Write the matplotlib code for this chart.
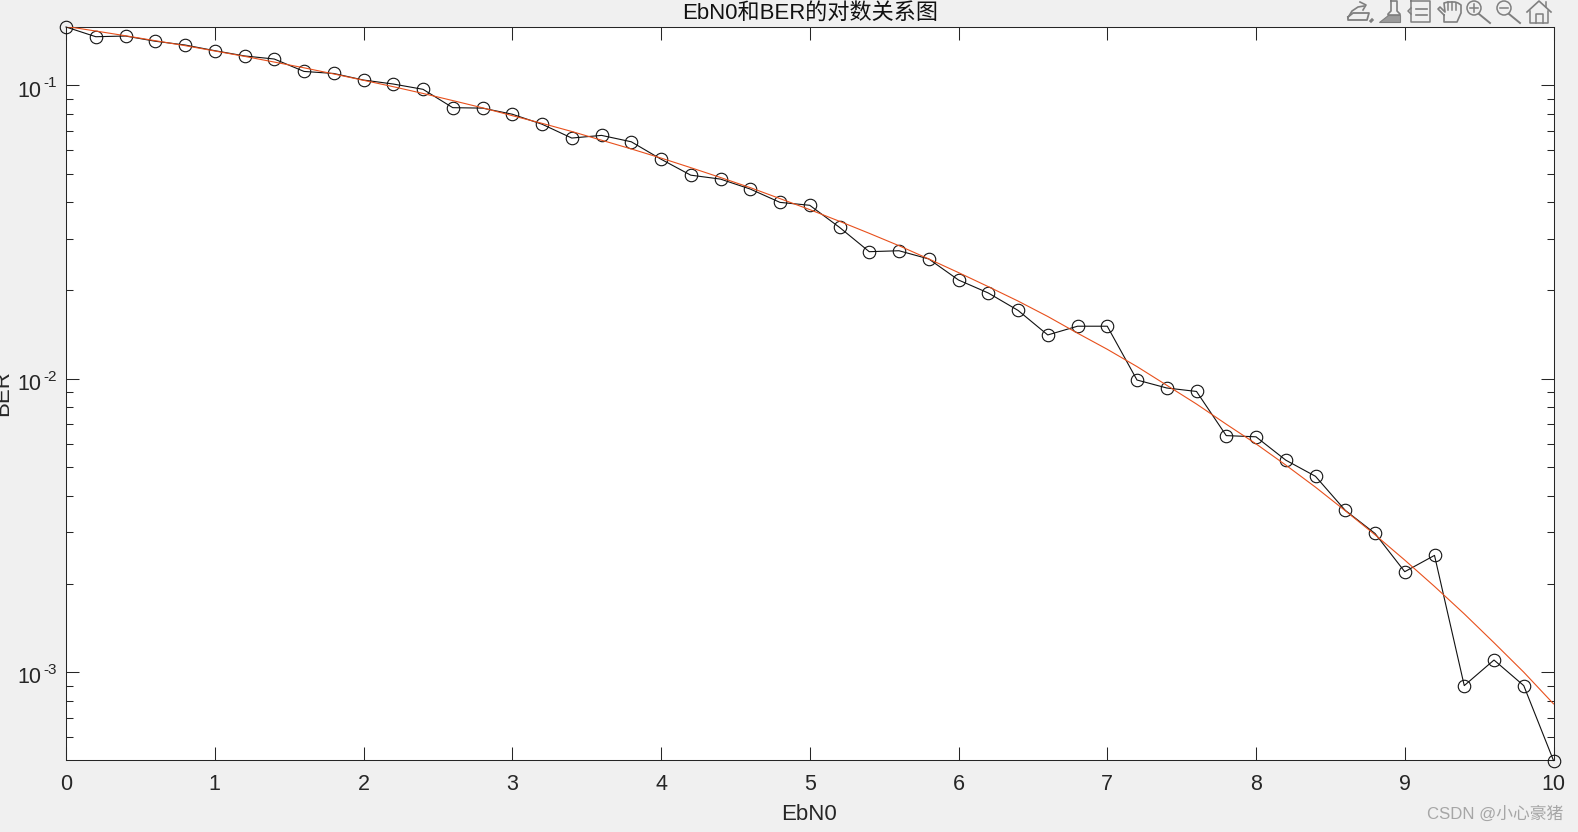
import math
import matplotlib
matplotlib.use("Agg")
import matplotlib.pyplot as plt
from matplotlib.lines import Line2D
from matplotlib.patches import Circle, Polygon
from matplotlib.ticker import LogLocator, NullFormatter, FixedLocator
from matplotlib.transforms import blended_transform_factory, ScaledTranslation, IdentityTransform

W, H = 1578, 832

ebn0 = [i / 5 for i in range(51)]
ber_sim = [0.158, 0.1464, 0.1472, 0.1413, 0.1372, 0.1312, 0.1259, 0.1229, 0.1115, 0.1097,
           0.1042, 0.101, 0.0969, 0.0839, 0.0836, 0.0797, 0.0737, 0.0661, 0.0675, 0.0642,
           0.056, 0.0494, 0.0479, 0.0443, 0.0399, 0.039, 0.0328, 0.0271, 0.0273, 0.0256,
           0.0217, 0.0196, 0.0171, 0.0141, 0.0151, 0.0151, 0.0099, 0.0093, 0.00905, 0.0064,
           0.00634, 0.00528, 0.00465, 0.00356, 0.00297, 0.0022, 0.0025, 0.0009, 0.0011, 0.0009,
           0.0005]
ber_theory = [0.1587, 0.1531, 0.1475, 0.1419, 0.1365, 0.1309, 0.1255, 0.1200, 0.1147, 0.1093,
              0.1040, 0.0989, 0.0938, 0.0887, 0.0838, 0.0788, 0.0742, 0.0696, 0.0650, 0.0607,
              0.0565, 0.0524, 0.0485, 0.0448, 0.0411, 0.0377, 0.0344, 0.0313, 0.0284, 0.0256,
              0.0230, 0.0206, 0.0184, 0.0163, 0.0143, 0.0126, 0.0110, 0.0095, 0.0082, 0.0070,
              0.0060, 0.00508, 0.00427, 0.00355, 0.00294, 0.00241, 0.00196, 0.00158, 0.00126, 0.00100,
              0.00078]
x_ticks = list(range(11))
y_decades = [0.1, 0.01, 0.001]
title_text = "EbN0和BER的对数关系图"
x_label = "EbN0"
y_label = "BER"
watermark = "CSDN @小心豪猪"

FONT = ["Liberation Sans", "Noto Sans CJK SC", "DejaVu Sans"]
plt.rcParams["font.family"] = FONT

INK = "#262626"
fig = plt.figure(figsize=(W / 100, H / 100), dpi=100, facecolor="#f0f0f0")
L, R, T, B = 66.0, 1553.5, 27.0, 760.0
ax = fig.add_axes([L / W, 1 - B / H, (R - L) / W, (B - T) / H], facecolor="white")

ax.set_yscale("log")
ax.plot(ebn0, ber_sim, color="#111111", lw=0.8, marker="o", ms=9.0, mfc="none", mec="#111111",
        mew=0.8, clip_on=False, zorder=3)
ax.plot(ebn0, ber_theory, color="#e8501c", lw=0.8, zorder=4)
ax.set_xlim(0, 10)
ax.set_ylim(0.000502, 0.158)

ax.xaxis.set_major_locator(FixedLocator(x_ticks))
ax.yaxis.set_major_locator(FixedLocator(y_decades))
ax.yaxis.set_minor_locator(LogLocator(base=10, subs=range(2, 10), numticks=10))
ax.yaxis.set_minor_formatter(NullFormatter())
ax.tick_params(which="major", axis="both", direction="in", length=9.6, width=0.75, color=INK,
               top=True, right=True, labelsize=15.5, labelcolor=INK)
ax.tick_params(which="major", axis="x", pad=10.2)
ax.tick_params(which="major", axis="y", labelleft=False)
ax.tick_params(which="minor", axis="y", direction="in", length=4.8, width=0.75, color=INK,
               left=True, right=True)
ax.tick_params(axis="x", which="minor", bottom=False, top=False)
for s in ax.spines.values():
    s.set_linewidth(0.75)
    s.set_color(INK)

# y tick labels: 10 with a raised exponent (hyphen style, as in the reference)
px = IdentityTransform()
ytrans = blended_transform_factory(px, ax.transData)
for v in y_decades:
    exp = round(math.log10(v))
    ax.text(41.5, v, "10", ha="right", va="center", fontsize=15.5, color=INK, clip_on=False,
            transform=ytrans + ScaledTranslation(0, -5.8 / 100, fig.dpi_scale_trans))
    ax.text(43, v, f"-{abs(exp)}", ha="left", va="center", fontsize=11, color=INK, clip_on=False,
            transform=ytrans + ScaledTranslation(0, 2 / 100, fig.dpi_scale_trans))

fig.text(810 / W, 1 - 13 / H, title_text, ha="center", va="center", fontsize=15.9, color="#111111")
fig.text(809 / W, 1 - 814.5 / H, x_label, ha="center", va="center", fontsize=16, color=INK)
fig.text(2.5 / W, 1 - 393 / H, y_label, ha="center", va="center", rotation=90, fontsize=16, color=INK)
fig.text(1563 / W, 1 - 814 / H, watermark, ha="right", va="center", fontsize=12.1, color="#a6a6a6",
         family=["Liberation Sans", "Noto Sans CJK SC"])

# Toolbar icons, in figure pixels
ICON = "#7f7f7f"
def seg(xs, ys, lw=1.1, c=ICON):
    fig.add_artist(Line2D([x / W for x in xs], [1 - y / H for y in ys], color=c, lw=lw))
def circ(x, y, r):
    fig.add_artist(Circle((x, H - y), r, transform=None, fc="none", ec=ICON, lw=1.1))
def poly(xs, ys, c="#9a9a9a"):
    fig.add_artist(Polygon([(x, H - y) for x, y in zip(xs, ys)], closed=True, transform=None, fc=c, ec=ICON, lw=0.8))

# plot-edit tool
seg([1349, 1352, 1358, 1364], [16, 11, 7, 6], 1.2); seg([1360, 1366, 1363], [2, 5, 10], 1.2)
seg([1348, 1353, 1369, 1367, 1348, 1348], [17, 13, 13, 20, 20, 17], 1.3)
seg([1371, 1372], [21, 20], 2.2)
# paint brush
seg([1391, 1397, 1397, 1400, 1400, 1388, 1388, 1391, 1391], [1, 1, 11, 14, 15, 15, 14, 11, 1], 1.2)
poly([1388, 1400, 1400, 1379], [15, 15, 22, 22])
# legend
seg([1411, 1430, 1430, 1411, 1411], [1, 1, 22, 22, 1], 1.1); seg([1416, 1427], [9, 9], 1.2); seg([1416, 1427], [15, 15], 1.2)
seg([1411, 1408, 1411], [8, 11, 14])
# hand
seg([1444, 1438, 1440, 1445, 1444, 1448, 1451, 1455, 1458, 1461, 1461, 1457, 1444, 1444],
    [15, 9, 7, 12, 3, 2, 2, 2, 3, 5, 13, 22, 22, 15], 1.2)
seg([1448, 1448], [2, 10]); seg([1452, 1452], [2, 10]); seg([1456, 1456], [3, 10])
# zoom in
circ(1474, 8, 7); seg([1479, 1490], [14, 23], 1.4); seg([1470, 1478], [8, 8]); seg([1474, 1474], [4, 12])
# zoom out
circ(1504, 8, 7); seg([1509, 1520], [14, 23], 1.4); seg([1500, 1508], [8, 8])
# home
seg([1527, 1539, 1551], [12, 1, 12], 1.2); seg([1530, 1530, 1548, 1548], [11, 23, 23, 11]); seg([1536, 1536, 1543, 1543], [23, 14, 14, 23])
seg([1546, 1546], [2, 7])

fig.savefig("out.png", dpi=100, facecolor=fig.get_facecolor())
